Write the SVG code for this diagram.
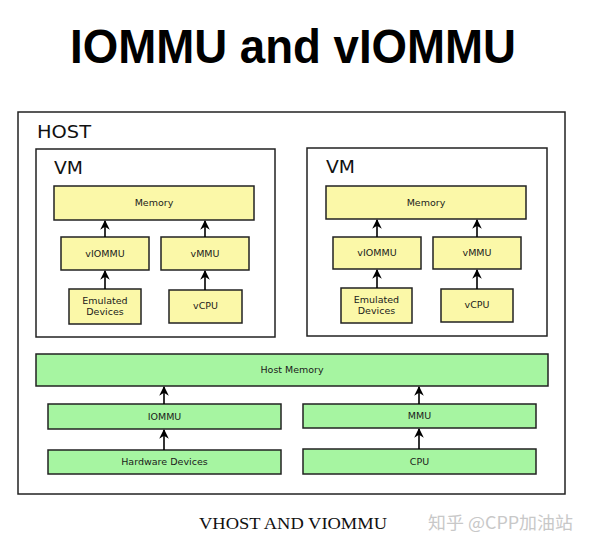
<svg xmlns="http://www.w3.org/2000/svg" width="589" height="548" viewBox="0 0 589 548">
<defs>
<style>
.title{font-family:"Liberation Sans",Arial,sans-serif;font-weight:bold;font-size:48px;fill:#000}
.big{font-family:"DejaVu Sans",Verdana,sans-serif;font-size:17px;fill:#111}
.lbl{font-family:"DejaVu Sans",Verdana,sans-serif;font-size:8.4px;fill:#1a1a1a;text-anchor:middle}
.frame{fill:#fff;stroke:#222;stroke-width:1.5}
.y{fill:#fbf8a8;stroke:#222;stroke-width:1.5}
.g{fill:#a6f5a1;stroke:#222;stroke-width:1.5}
.arr{stroke:#000;stroke-width:1.6;fill:none;marker-end:url(#ah)}
.cap{font-family:"Liberation Serif","Times New Roman",serif;font-size:16px;fill:#111}
.wm{font-family:"Noto Sans CJK SC",sans-serif;font-size:17px;fill:#c8c8c8}
</style>
<marker id="ah" viewBox="0 0 10 10" refX="9" refY="5" markerWidth="6" markerHeight="6" markerUnits="strokeWidth" orient="auto">
<path d="M0,0 L10,5 L0,10 L3,5 z" fill="#000"/>
</marker>
</defs>
<rect width="589" height="548" fill="#fff"/>
<text class="title" x="293" y="63" text-anchor="middle" textLength="446" lengthAdjust="spacingAndGlyphs">IOMMU and vIOMMU</text>

<g id="host">
<rect class="frame" x="18" y="112" width="547" height="382"/>
<text class="big" x="37" y="138" textLength="54" lengthAdjust="spacingAndGlyphs">HOST</text>
</g>

<g id="vm1">
<rect class="frame" x="36" y="149" width="239" height="188"/>
<text class="big" x="54" y="174" textLength="29" lengthAdjust="spacingAndGlyphs">VM</text>
</g>
<g id="vm1-memory"><rect class="y" x="54" y="186" width="200" height="34"/><text class="lbl" x="154" y="206" textLength="38.6" lengthAdjust="spacingAndGlyphs">Memory</text></g>
<g id="vm1-viommu"><rect class="y" x="61" y="237" width="88" height="33"/><text class="lbl" x="105" y="256.5" textLength="39.3" lengthAdjust="spacingAndGlyphs">vIOMMU</text></g>
<g id="vm1-vmmu"><rect class="y" x="161" y="237" width="88" height="33"/><text class="lbl" x="205" y="256.5" textLength="29" lengthAdjust="spacingAndGlyphs">vMMU</text></g>
<g id="vm1-emulated"><rect class="y" x="69" y="289" width="72" height="35"/><text class="lbl" x="105" y="304" textLength="45.3" lengthAdjust="spacingAndGlyphs">Emulated</text><text class="lbl" x="105" y="314.5" textLength="37.4" lengthAdjust="spacingAndGlyphs">Devices</text></g>
<g id="vm1-vcpu"><rect class="y" x="169" y="290" width="73" height="33"/><text class="lbl" x="205.5" y="309" textLength="24.9" lengthAdjust="spacingAndGlyphs">vCPU</text></g>

<g id="vm2">
<rect class="frame" x="307" y="148" width="240" height="188"/>
<text class="big" x="326" y="173" textLength="29" lengthAdjust="spacingAndGlyphs">VM</text>
</g>
<g id="vm2-memory"><rect class="y" x="326" y="186" width="200" height="33"/><text class="lbl" x="426" y="205.5" textLength="38.6" lengthAdjust="spacingAndGlyphs">Memory</text></g>
<g id="vm2-viommu"><rect class="y" x="333" y="237" width="88" height="32"/><text class="lbl" x="377" y="256" textLength="39.3" lengthAdjust="spacingAndGlyphs">vIOMMU</text></g>
<g id="vm2-vmmu"><rect class="y" x="433" y="237" width="88" height="32"/><text class="lbl" x="477" y="256" textLength="29" lengthAdjust="spacingAndGlyphs">vMMU</text></g>
<g id="vm2-emulated"><rect class="y" x="341" y="288" width="71" height="35"/><text class="lbl" x="376.5" y="303" textLength="45.3" lengthAdjust="spacingAndGlyphs">Emulated</text><text class="lbl" x="376.5" y="313.5" textLength="37.4" lengthAdjust="spacingAndGlyphs">Devices</text></g>
<g id="vm2-vcpu"><rect class="y" x="441" y="289" width="72" height="33"/><text class="lbl" x="477" y="308" textLength="24.9" lengthAdjust="spacingAndGlyphs">vCPU</text></g>

<g id="host-memory"><rect class="g" x="36" y="354" width="512" height="32"/><text class="lbl" x="292" y="373" textLength="63" lengthAdjust="spacingAndGlyphs">Host Memory</text></g>
<g id="iommu"><rect class="g" x="48" y="404" width="233" height="25"/><text class="lbl" x="164.5" y="419.5" textLength="33.6" lengthAdjust="spacingAndGlyphs">IOMMU</text></g>
<g id="mmu"><rect class="g" x="303" y="404" width="233" height="24"/><text class="lbl" x="419.5" y="419" textLength="23.4" lengthAdjust="spacingAndGlyphs">MMU</text></g>
<g id="hardware-devices"><rect class="g" x="48" y="450" width="233" height="24"/><text class="lbl" x="164.5" y="465" textLength="86.7" lengthAdjust="spacingAndGlyphs">Hardware Devices</text></g>
<g id="cpu"><rect class="g" x="303" y="449" width="233" height="25"/><text class="lbl" x="419.5" y="464.5" textLength="19.3" lengthAdjust="spacingAndGlyphs">CPU</text></g>

<g id="connectors">
<line class="arr" x1="105" y1="237" x2="105" y2="221"/>
<line class="arr" x1="205" y1="237" x2="205" y2="221"/>
<line class="arr" x1="105" y1="289" x2="105" y2="271"/>
<line class="arr" x1="205" y1="290" x2="205" y2="271"/>
<line class="arr" x1="377" y1="237" x2="377" y2="220"/>
<line class="arr" x1="477" y1="237" x2="477" y2="220"/>
<line class="arr" x1="377" y1="288" x2="377" y2="270"/>
<line class="arr" x1="477" y1="289" x2="477" y2="270"/>
<line class="arr" x1="164" y1="404" x2="164" y2="387"/>
<line class="arr" x1="419" y1="404" x2="419" y2="387"/>
<line class="arr" x1="164" y1="450" x2="164" y2="430"/>
<line class="arr" x1="419" y1="449" x2="419" y2="429"/>
</g>

<text class="cap" x="199" y="529" textLength="188" lengthAdjust="spacingAndGlyphs">VHOST AND VIOMMU</text>
<text class="wm" x="428" y="529" textLength="145" lengthAdjust="spacingAndGlyphs">知乎 @CPP加油站</text>
</svg>
